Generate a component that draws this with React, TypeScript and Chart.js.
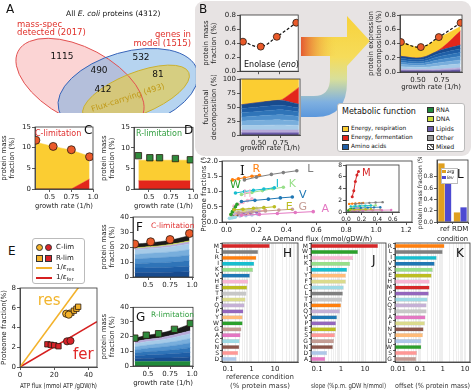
import React, { useEffect, useRef } from 'react';
import { Chart, registerables } from 'chart.js';

Chart.register(...registerables);
const FONT = "'DejaVu Sans', sans-serif";
Chart.defaults.font.family = FONT;
Chart.defaults.font.size = 7;
Chart.defaults.color = '#222';

// ================= DATA =================
// A: Venn diagram
const vennSetMassSpec = ['mass-spec', 'detected (2017)'];
const vennSetModel = ['genes in', 'model (1515)'];
const vennFluxLabel = 'Flux-carrying (493)';
const vennRegionCounts = [1115, 532, 490, 81, 412];

// B: enolase example
const enoGrowth = [0.32, 0.53, 0.72, 0.95];
const enoFraction = [0.42, 0.35, 0.49, 0.69];
const funcGrowth = [0.3, 0.5, 0.75, 0.96];
const funcLipids = [4, 4, 4, 4];
const funcOther = [5, 5, 5, 5];
const funcAmino = [[8, 8, 9, 8], [8, 9, 9, 8], [7, 8, 9, 8], [8, 8, 9, 8], [7, 8, 8, 7], [7, 8, 9, 7]];
const funcFermentation = [0, 0, 0, 30];
const funcRespiration = [46, 42, 38, 15];
const exprLipids = [0.02, 0.02, 0.02, 0.03];
const exprOther = [0.02, 0.015, 0.02, 0.03];
const exprAmino = [[0.035, 0.03, 0.045, 0.055], [0.03, 0.028, 0.044, 0.054], [0.03, 0.027, 0.043, 0.053], [0.03, 0.027, 0.043, 0.053], [0.028, 0.027, 0.042, 0.052], [0.027, 0.026, 0.041, 0.051]];
const exprFermentation = [0, 0, 0.01, 0.2];
const exprRespiration = [0.2, 0.15, 0.17, 0.06];

// C / D
const cGrowth = [0.34, 0.54, 0.75, 0.96];
const cFermentation = [0, 0, 0, 2.4];
const cRespiration = [11.3, 10.3, 9.4, 5.5];
const cMeasured = [11.8, 10.3, 9.5, 7.8];
const dGrowth = [0.38, 0.51, 0.62, 0.8, 0.97];
const dFermentation = [2, 2, 2, 2, 2];
const dRespiration = [5, 5, 5, 5, 5];
const dMeasured = [8.1, 7.6, 7.6, 7.4, 7.1];

// E
const atpLineX = [0, 45];
const resLineY = [0, 10.6];
const ferLineY = [0, 4.6];
const resClimX = [27, 28.5];
const resClimY = [5.4, 5.3];
const resRlimX = [30, 31.5, 33, 34];
const resRlimY = [5.5, 5.7, 5.9, 6.1];
const ferRlimX = [16, 18, 20, 22.5];
const ferRlimY = [2.3, 2.25, 2.2, 2.1];
const ferClimX = [27.5, 29.5];
const ferClimY = [2.6, 2.65];

// F / G
const fGrowth = [0.35, 0.53, 0.75, 0.97];
const fAmino = [[3, 3, 3.2, 3.5], [3, 3.2, 3.3, 3.6], [3, 3.2, 3.4, 3.7], [3, 3.2, 3.4, 3.7], [3, 3.2, 3.4, 3.7], [3, 3, 3.3, 3.8]];
const fLipids = [1, 1, 1.2, 1.5];
const fDNA = [0.5, 0.5, 0.5, 0.6];
const fMixed = [2.5, 2.5, 2.8, 3.5];
const fMeasured = [22, 23.5, 25, 29];
const gGrowth = [0.35, 0.48, 0.62, 0.8, 0.98];
const gRNA = [3, 3, 3, 3, 3];
const gAmino = [[2, 2.2, 2.4, 2.7, 3.2], [2, 2.3, 2.4, 2.8, 3.2], [2, 2.2, 2.4, 2.7, 3.1], [2, 2.3, 2.5, 2.8, 3.2], [2, 2.2, 2.4, 2.7, 3.1], [2, 2.3, 2.4, 2.8, 3.2]];
const gLipids = [1.5, 1.5, 1.6, 1.8, 2];
const gMixed = [2.5, 2.8, 3, 3.5, 4.5];
const gMeasured = [19, 21, 22, 25, 29];

// Amino acid colours
const aaColors: Record<string, string> = {
  V: '#1f77b4', D: '#aec7e8', R: '#ff7f0e', Y: '#ffbb78', W: '#2ca02c', K: '#98df8a', M: '#d62728', S: '#ff9896',
  P: '#9467bd', Q: '#c5b0d5', N: '#8c564b', G: '#c49c94', A: '#e377c2', H: '#f7b6d2', L: '#7f7f7f', T: '#c7c7c7',
  E: '#bcbd22', F: '#dbdb8d', I: '#17becf', C: '#9edae5',
};

// I: AA demand flux vs proteome fraction
const aaDemandFlux: Record<string, number[]> = {
  L: [0.12, 0.2, 0.3, 0.38, 0.47], R: [0.04, 0.08, 0.12, 0.17, 0.22], I: [0.06, 0.12, 0.18, 0.25, 0.32],
  K: [0.1, 0.17, 0.24, 0.31, 0.38], V: [0.1, 0.19, 0.28, 0.36, 0.44], E: [0.05, 0.11, 0.18, 0.25, 0.32],
  G: [0.08, 0.17, 0.26, 0.35, 0.44], A: [0.1, 0.22, 0.34, 0.46, 0.58], W: [0.03, 0.04, 0.05, 0.06, 0.07],
  H: [0.05, 0.08, 0.11, 0.14, 0.17], T: [0.05, 0.1, 0.15, 0.2, 0.25], F: [0.04, 0.08, 0.12, 0.16, 0.2],
  Q: [0.05, 0.09, 0.13, 0.18, 0.22], P: [0.04, 0.08, 0.12, 0.16, 0.2], Y: [0.03, 0.06, 0.09, 0.12, 0.15],
  C: [0.02, 0.03, 0.04, 0.05, 0.06], N: [0.04, 0.07, 0.1, 0.13, 0.16], S: [0.06, 0.11, 0.16, 0.21, 0.26],
  D: [0.05, 0.09, 0.13, 0.17, 0.21],
};
const aaProteomeFrac: Record<string, number[]> = {
  L: [1.38, 1.47, 1.56, 1.62, 1.68], R: [1.38, 1.42, 1.45, 1.5, 1.53], I: [0.95, 1.0, 1.04, 1.08, 1.12],
  K: [0.9, 0.97, 1.03, 1.09, 1.14], V: [0.67, 0.71, 0.75, 0.79, 0.82], E: [0.4, 0.42, 0.45, 0.47, 0.5],
  G: [0.3, 0.33, 0.36, 0.39, 0.42], A: [0.22, 0.25, 0.28, 0.31, 0.34], W: [0.25, 0.34, 0.42, 0.5, 0.58],
  H: [0.52, 0.58, 0.64, 0.7, 0.76], T: [0.38, 0.4, 0.42, 0.45, 0.47], F: [0.33, 0.35, 0.37, 0.39, 0.41],
  Q: [0.28, 0.3, 0.32, 0.34, 0.36], P: [0.26, 0.28, 0.3, 0.31, 0.33], Y: [0.24, 0.26, 0.27, 0.29, 0.3],
  C: [0.12, 0.13, 0.14, 0.15, 0.16], N: [0.22, 0.24, 0.26, 0.28, 0.3], S: [0.3, 0.32, 0.34, 0.36, 0.38],
  D: [0.18, 0.2, 0.21, 0.23, 0.25],
};
const metDemandFlux = [0.08, 0.1, 0.12, 0.14, 0.16];
const metProteomeFrac = [2.6, 3.6, 5.2, 6.3, 6.9];
const iLabelAt: Record<string, number[]> = {
  L: [0.56, 1.72], R: [0.2, 1.74], I: [0.34, 1.24], K: [0.44, 1.25], V: [0.51, 0.87],
  E: [0.42, 0.5], G: [0.51, 0.49], A: [0.66, 0.42], W: [0.06, 1.22], H: [0.14, 0.92],
};

// H / J / K
const hOrder = ['M', 'L', 'R', 'I', 'K', 'V', 'H', 'E', 'T', 'F', 'Q', 'P', 'Y', 'W', 'G', 'A', 'C', 'N', 'S', 'D'];
const hValues = [6.0, 1.9, 1.6, 1.3, 1.15, 0.85, 0.72, 0.65, 0.6, 0.55, 0.5, 0.45, 0.42, 0.42, 0.37, 0.34, 0.31, 0.3, 0.27, 0.23];
const jOrder = ['M', 'W', 'H', 'K', 'I', 'Y', 'F', 'C', 'L', 'T', 'R', 'Q', 'V', 'P', 'E', 'S', 'G', 'N', 'D', 'A'];
const jValues = [35, 5.1, 3.2, 2.4, 1.8, 1.6, 1.6, 1.3, 1.2, 1.1, 1.0, 0.9, 0.68, 0.62, 0.62, 0.56, 0.51, 0.46, 0.26, 0.22];
const kOrder = ['R', 'L', 'I', 'V', 'K', 'E', 'H', 'M', 'P', 'C', 'Q', 'T', 'A', 'F', 'N', 'Y', 'D', 'W', 'S', 'G'];
const kValues = [1.2, 1.0, 0.54, 0.44, 0.36, 0.32, 0.26, 0.26, 0.24, 0.21, 0.19, 0.19, 0.17, 0.16, 0.14, 0.13, 0.11, 0.11, 0.07, 0.065];

// L
const lConditions = ['ref', 'RDM'];
const lArg = [1.04, 0.17];
const lLev = [0.77, 0.26];

// ================= STYLE =================
const YEL = '#fbcd32';
const RED = '#e3261b';
const BLUES = ['#a6cbe8', '#78aedc', '#4f90cc', '#2f74b8', '#1f5ea6', '#184b8e'];
const PURPLE = '#6a5aa8';
const LAVENDER = '#b7a9d8';
const GREEN_RNA = '#1f8a3a';
const DNA_C = '#c9df3a';
const MIXED = '#1a1a1a';
const ORANGE_PT = '#ea5a2a';
const GREEN_PT = '#2f8a3c';

type R4 = { l: number; t: number; r: number; b: number };

// ================= PLUGINS =================
const frame = {
  id: 'frame',
  afterDatasetsDraw(chart: any, _a: any, o: any) {
    if (!o || !o.on) return;
    const { ctx, chartArea: a } = chart;
    ctx.save();
    ctx.strokeStyle = '#333';
    ctx.lineWidth = 0.8;
    ctx.strokeRect(a.left, a.top, a.right - a.left, a.bottom - a.top);
    ctx.restore();
  },
};
const whiteBg = {
  id: 'whiteBg',
  beforeDraw(chart: any, _a: any, o: any) {
    if (!o || !o.on) return;
    const { ctx, chartArea: a } = chart;
    ctx.save();
    ctx.fillStyle = '#fff';
    ctx.fillRect(a.left, a.top, a.right - a.left, a.bottom - a.top);
    ctx.restore();
  },
};
const venn = {
  id: 'venn',
  afterDatasetsDraw(chart: any, _a: any, o: any) {
    if (!o || !o.ellipses) return;
    const { ctx, scales } = chart;
    const px = (v: number) => scales.x.getPixelForValue(v);
    const py = (v: number) => scales.y.getPixelForValue(v);
    ctx.save();
    const path = (e: any) => {
      ctx.beginPath();
      ctx.ellipse(px(e.cx), py(e.cy), Math.abs(px(e.cx + e.rx) - px(e.cx)), Math.abs(py(e.cy + e.ry) - py(e.cy)), (e.rot * Math.PI) / 180, 0, Math.PI * 2);
    };
    for (const e of o.ellipses) { path(e); ctx.fillStyle = e.fill; ctx.fill(); }
    for (const e of o.ellipses) { path(e); ctx.strokeStyle = e.stroke; ctx.lineWidth = 1; ctx.stroke(); }
    ctx.restore();
  },
};
const dataText = {
  id: 'dataText',
  afterDatasetsDraw(chart: any, _a: any, o: any) {
    if (!o || !o.items) return;
    const { ctx, scales } = chart;
    ctx.save();
    for (const t of o.items) {
      ctx.save();
      ctx.translate(scales.x.getPixelForValue(t.x), scales.y.getPixelForValue(t.y));
      ctx.rotate(((t.rot || 0) * Math.PI) / 180);
      ctx.font = `${t.size || 8}px ${FONT}`;
      ctx.fillStyle = t.color || '#111';
      ctx.textAlign = t.align || 'center';
      ctx.textBaseline = 'middle';
      ctx.fillText(t.text, 0, 0);
      ctx.restore();
    }
    ctx.restore();
  },
};
const arrow = {
  id: 'arrowDeco',
  beforeDraw(chart: any, _a: any, o: any) {
    if (!o || !o.on) return;
    const ctx = chart.ctx;
    const ox = o.ox, oy = o.oy;
    const P = (x: number, y: number): [number, number] => [x - ox, y - oy];
    ctx.save();
    ctx.beginPath();
    ctx.moveTo(...P(301, 37));
    ctx.lineTo(...P(347, 37));
    ctx.lineTo(...P(347, 16));
    ctx.lineTo(...P(370, 41));
    ctx.lineTo(...P(347, 66));
    ctx.lineTo(...P(347, 82));
    ctx.quadraticCurveTo(...P(347, 117), ...P(316, 117));
    ctx.lineTo(...P(301, 117));
    ctx.lineTo(...P(301, 96));
    ctx.lineTo(...P(314, 96));
    ctx.quadraticCurveTo(...P(330, 96), ...P(330, 78));
    ctx.lineTo(...P(330, 56));
    ctx.lineTo(...P(301, 56));
    ctx.closePath();
    const g = ctx.createLinearGradient(0, 17 - oy, 0, 117 - oy);
    g.addColorStop(0, '#f7d23c');
    g.addColorStop(0.4, '#f6dc5a');
    g.addColorStop(0.62, '#d8df9a');
    g.addColorStop(0.85, '#7fb0e0');
    g.addColorStop(1, '#5b97dc');
    ctx.fillStyle = g;
    ctx.fill();
    ctx.beginPath();
    ctx.rect(301 - ox, 37 - oy, 36, 19);
    const h = ctx.createLinearGradient(301 - ox, 0, 337 - ox, 0);
    h.addColorStop(0, 'rgba(228,90,50,1)');
    h.addColorStop(1, 'rgba(246,210,70,0)');
    ctx.fillStyle = h;
    ctx.fill();
    ctx.restore();
  },
};

// ================= HELPERS =================
function linAxis(min: number, max: number, ticks: number[], fmt: (v: number) => string, title?: string | string[], showLabels = true, extra: any = {}) {
  return {
    type: 'linear', min, max,
    afterBuildTicks: (s: any) => { s.ticks = ticks.map((v) => ({ value: v })); },
    grid: { drawOnChartArea: false, tickLength: 3, color: '#333', lineWidth: 0.8 },
    border: { color: '#333', width: 0.8 },
    ticks: { display: showLabels, font: { size: 7 }, color: '#222', padding: 1, maxRotation: 0, autoSkip: false, callback: (v: any) => fmt(Number(v)) },
    title: title ? { display: true, text: title, font: { size: 7 }, color: '#222', padding: { top: 0, bottom: 1 } } : { display: false },
    ...extra,
  };
}
function logAxis(min: number, max: number, title: string | string[]) {
  const ticks: number[] = [];
  for (let e = -3; e <= 2; e++) for (let k = 1; k <= 9; k++) {
    const v = Number((k * Math.pow(10, e)).toPrecision(3));
    if (v >= min && v <= max) ticks.push(v);
  }
  return {
    type: 'logarithmic', min, max,
    afterBuildTicks: (s: any) => { s.ticks = ticks.map((v) => ({ value: v })); },
    grid: { drawOnChartArea: true, drawTicks: false, color: '#e2e2e2', lineWidth: 0.6 },
    border: { color: '#333', width: 0.8 },
    ticks: { font: { size: 7 }, color: '#222', padding: 3, maxRotation: 0, autoSkip: false, callback: (v: any) => ([0.01, 0.1, 1, 10].includes(Number(v)) ? String(Number(v)) : '') },
    title: { display: true, text: title, font: { size: 7 }, color: '#333', padding: { top: 1, bottom: 0 } },
  };
}
function catAxis(size: number, extra: any = {}) {
  return {
    type: 'category',
    grid: { drawOnChartArea: false, tickLength: 2, color: '#333', lineWidth: 0.8 },
    border: { color: '#333', width: 0.8 },
    ticks: { font: { size }, color: '#222', padding: 1, autoSkip: false, maxRotation: 0 },
    ...extra,
  };
}
function mkOpts(m: R4, x: any, y: any, pl: any = {}, extra: any = {}) {
  return {
    responsive: false, animation: false, events: [], devicePixelRatio: 1,
    layout: { padding: { left: 0, top: m.t, right: m.r, bottom: 0 } },
    plugins: { legend: { display: false }, tooltip: { enabled: false }, frame: { on: true }, ...pl },
    scales: {
      x: { ...x, afterFit: (s: any) => { s.height = m.b; s.paddingLeft = 0; s.paddingRight = 0; } },
      y: { ...y, afterFit: (s: any) => { s.width = m.l; s.paddingTop = 0; s.paddingBottom = 0; } },
    },
    ...extra,
  };
}
function boxOf(p: R4, m: R4) {
  return { left: p.l - m.l, top: p.t - m.t, width: p.r - p.l + m.l + m.r, height: p.b - p.t + m.t + m.b };
}
function stackDs(xs: number[], layers: { v: number[]; c: string }[], tension = 0.35) {
  return layers.map((L, i) => ({
    type: 'line', data: xs.map((x, k) => ({ x, y: L.v[k] })), stack: 'area', order: 2,
    backgroundColor: L.c, borderColor: L.c, borderWidth: 0.5, pointRadius: 0,
    fill: i === 0 ? 'origin' : '-1', tension,
  }));
}
function ptsDs(xs: number[], ys: number[], color: string, style = 'circle', r = 4, dashed = false) {
  return {
    type: 'line', data: xs.map((x, k) => ({ x, y: ys[k] })), stack: 'pts', order: 0,
    showLine: dashed, borderColor: '#111', borderWidth: dashed ? 1.2 : 0, borderDash: [3, 2], tension: 0.4,
    pointStyle: style, pointRadius: r, pointBackgroundColor: color, pointBorderColor: '#2a1a10', pointBorderWidth: 0.8, fill: false,
  };
}
function lineDs(xs: number[], ys: number[], color: string, r = 1.8, w = 1) {
  return {
    type: 'line', data: xs.map((x, k) => ({ x, y: ys[k] })), borderColor: color, backgroundColor: color,
    borderWidth: w, pointRadius: r, pointBorderWidth: 0, fill: false, tension: 0,
  };
}
const f1 = (v: number) => v.toFixed(1);
const f2 = (v: number) => v.toFixed(2);
const fg = (v: number) => (v === 0.75 ? '0.75' : v.toFixed(1));
const fi = (v: number) => String(v);

function buildSpecs() {
  const specs: any[] = [];
  const add = (box: any, config: any) => specs.push({ box, config });
  const P = [whiteBg, frame, venn, dataText, arrow];

  // A: Venn
  add({ left: 0, top: 0, width: 196, height: 113 }, {
    type: 'scatter', data: { datasets: [] }, plugins: P,
    options: {
      responsive: false, animation: false, events: [], devicePixelRatio: 1, layout: { padding: 0 },
      scales: { x: { type: 'linear', min: 0, max: 196, display: false }, y: { type: 'linear', min: 0, max: 113, reverse: true, display: false } },
      plugins: {
        legend: { display: false }, tooltip: { enabled: false },
        venn: {
          ellipses: [
            { cx: 80, cy: 84, rx: 70, ry: 36, rot: 28, fill: 'rgba(246,160,160,0.45)', stroke: '#e25050' },
            { cx: 128, cy: 90, rx: 72, ry: 38, rot: -16, fill: 'rgba(110,170,225,0.5)', stroke: '#3563b8' },
            { cx: 136, cy: 94, rx: 57, ry: 21, rot: -22, fill: 'rgba(232,205,70,0.65)', stroke: '#c9b030' },
          ],
        },
        dataText: {
          items: [
            { x: 17, y: 25, text: vennSetMassSpec[0], color: '#e0302a', size: 8.5, align: 'left' },
            { x: 17, y: 33, text: vennSetMassSpec[1], color: '#e0302a', size: 8.5, align: 'left' },
            { x: 191, y: 35, text: vennSetModel[0], color: '#e0302a', size: 8.5, align: 'right' },
            { x: 191, y: 44, text: vennSetModel[1], color: '#e0302a', size: 8.5, align: 'right' },
            { x: 62, y: 57, text: String(vennRegionCounts[0]), color: '#111', size: 9 },
            { x: 141, y: 58, text: String(vennRegionCounts[1]), color: '#111', size: 9 },
            { x: 99, y: 71, text: String(vennRegionCounts[2]), color: '#111', size: 9 },
            { x: 158, y: 75, text: String(vennRegionCounts[3]), color: '#111', size: 9 },
            { x: 103, y: 90, text: String(vennRegionCounts[4]), color: '#111', size: 9 },
            { x: 128, y: 98, text: vennFluxLabel, color: '#c09a18', size: 8, rot: -18 },
          ],
        },
      },
    },
  });

  // Arrow decoration for B
  add({ left: 298, top: 12, width: 74, height: 108 }, {
    type: 'scatter', data: { datasets: [] }, plugins: P,
    options: {
      responsive: false, animation: false, events: [], devicePixelRatio: 1,
      scales: { x: { display: false }, y: { display: false } },
      plugins: { legend: { display: false }, tooltip: { enabled: false }, arrowDeco: { on: true, ox: 298, oy: 12 } },
    },
  });

  // B top-left
  {
    const p = { l: 240, t: 15, r: 300, b: 72 }, m = { l: 38, t: 5, r: 3, b: 4 };
    add(boxOf(p, m), {
      type: 'line', plugins: P,
      data: { datasets: [ptsDs(enoGrowth, enoFraction, ORANGE_PT, 'circle', 3.5, true)] },
      options: mkOpts(m, linAxis(0.285, 0.973, [0.5, 0.75], f2, undefined, false),
        linAxis(0, 0.8, [0, 0.2, 0.4, 0.6, 0.8], f1, ['protein mass', 'fraction (%)']), { whiteBg: { on: true } }),
    });
  }
  // B bottom-left
  {
    const p = { l: 240, t: 79, r: 300, b: 135 }, m = { l: 38, t: 4, r: 5, b: 18 };
    const layers = [
      { v: funcLipids, c: PURPLE }, { v: funcOther, c: LAVENDER },
      ...funcAmino.map((v, i) => ({ v, c: BLUES[i] })),
      { v: funcFermentation, c: RED }, { v: funcRespiration, c: YEL },
    ];
    add(boxOf(p, m), {
      type: 'line', plugins: P,
      data: { datasets: stackDs(funcGrowth, layers, 0.2) },
      options: mkOpts(m, linAxis(0.285, 0.973, [0.5, 0.75], f2, 'growth rate (1/h)'),
        linAxis(0, 100, [0, 25, 50, 75, 100], fi, ['functional', 'decomposition (%)'], true, { stacked: true }), { whiteBg: { on: true } }),
    });
  }
  // B right
  {
    const p = { l: 400, t: 15, r: 462, b: 72 }, m = { l: 33, t: 5, r: 6, b: 20 };
    const layers = [
      { v: exprLipids, c: PURPLE }, { v: exprOther, c: LAVENDER },
      ...exprAmino.map((v, i) => ({ v, c: BLUES[i] })),
      { v: exprFermentation, c: RED }, { v: exprRespiration, c: YEL },
    ];
    add(boxOf(p, m), {
      type: 'line', plugins: P,
      data: { datasets: [...stackDs(enoGrowth, layers, 0.4), ptsDs(enoGrowth, enoFraction, ORANGE_PT, 'circle', 3.5, true)] },
      options: mkOpts(m, linAxis(0.31, 0.965, [0.5, 0.75], f2, 'growth rate (1/h)'),
        linAxis(0, 0.8, [0, 0.2, 0.4, 0.6, 0.8], f1, ['protein expression', 'decomposition (%)'], true, { stacked: true }), { whiteBg: { on: true } }),
    });
  }
  // C
  {
    const p = { l: 35, t: 127, r: 93, b: 189 }, m = { l: 35, t: 5, r: 6, b: 22 };
    add(boxOf(p, m), {
      type: 'line', plugins: P,
      data: { datasets: [...stackDs(cGrowth, [{ v: cFermentation, c: RED }, { v: cRespiration, c: YEL }], 0), ptsDs(cGrowth, cMeasured, ORANGE_PT, 'circle', 4)] },
      options: mkOpts(m, linAxis(0.33, 1.0, [0.5, 0.75, 1.0], fg, 'growth rate (1/h)'),
        linAxis(0, 15, [0, 5, 10, 15], fi, ['protein mass', 'fraction (%)'], true, { stacked: true })),
    });
  }
  // D
  {
    const p = { l: 134, t: 127, r: 193, b: 189 }, m = { l: 34, t: 5, r: 6, b: 22 };
    add(boxOf(p, m), {
      type: 'line', plugins: P,
      data: { datasets: [...stackDs(dGrowth, [{ v: dFermentation, c: RED }, { v: dRespiration, c: YEL }], 0), ptsDs(dGrowth, dMeasured, GREEN_PT, 'rect', 4.5)] },
      options: mkOpts(m, linAxis(0.33, 1.0, [0.5, 0.75, 1.0], fg, 'growth rate (1/h)'),
        linAxis(0, 15, [0, 5, 10, 15], fi, ['protein mass', 'fraction (%)'], true, { stacked: true })),
    });
  }
  // E
  {
    const p = { l: 20, t: 288, r: 97, b: 367 }, m = { l: 20, t: 5, r: 8, b: 24 };
    add(boxOf(p, m), {
      type: 'line', plugins: P,
      data: {
        datasets: [
          ptsDs(resClimX, resClimY, '#f3b22b', 'circle', 3.6), ptsDs(resRlimX, resRlimY, '#f3b22b', 'rect', 3.8),
          ptsDs(ferRlimX, ferRlimY, '#d8232a', 'rect', 3.8), ptsDs(ferClimX, ferClimY, '#d8232a', 'circle', 3.6),
          { ...lineDs(atpLineX, resLineY, '#f3b22b', 0, 1.6), order: 3 }, { ...lineDs(atpLineX, ferLineY, '#d62020', 0, 1.6), order: 3 },
        ],
      },
      options: mkOpts(m, linAxis(0, 45, [0, 20, 40], fi, 'ATP flux (mmol ATP /gDW/h)'),
        linAxis(0, 8, [0, 2, 4, 6, 8], fi, 'Proteome fraction(%)'),
        { dataText: { items: [{ x: 17, y: 6.7, text: 'res', color: '#f2b52e', size: 15 }, { x: 37, y: 1.2, text: 'fer', color: '#e02828', size: 15 }] } }),
    });
  }
  // F
  {
    const p = { l: 133, t: 217, r: 193, b: 277 }, m = { l: 33, t: 5, r: 7, b: 12 };
    const layers = [...fAmino.map((v, i) => ({ v, c: BLUES[5 - i] })), { v: fLipids, c: LAVENDER }, { v: fDNA, c: DNA_C }, { v: fMixed, c: MIXED }];
    add(boxOf(p, m), {
      type: 'line', plugins: P,
      data: { datasets: [...stackDs(fGrowth, layers, 0.3), ptsDs(fGrowth, fMeasured, ORANGE_PT, 'circle', 4)] },
      options: mkOpts(m, linAxis(0.33, 1.01, [0.5, 0.75, 1.0], fg),
        linAxis(0, 40, [0, 10, 20, 30, 40], fi, ['protein mass', 'fraction (%)'], true, { stacked: true })),
    });
  }
  // G
  {
    const p = { l: 133, t: 307, r: 193, b: 366 }, m = { l: 33, t: 5, r: 7, b: 22 };
    const layers = [{ v: gRNA, c: GREEN_RNA }, ...gAmino.map((v, i) => ({ v, c: BLUES[5 - i] })), { v: gLipids, c: LAVENDER }, { v: gMixed, c: MIXED }];
    add(boxOf(p, m), {
      type: 'line', plugins: P,
      data: { datasets: [...stackDs(gGrowth, layers, 0.3), ptsDs(gGrowth, gMeasured, GREEN_PT, 'rect', 4.5)] },
      options: mkOpts(m, linAxis(0.33, 1.01, [0.5, 0.75, 1.0], fg, 'growth rate (1/h)'),
        linAxis(0, 40, [0, 10, 20, 30, 40], fi, ['protein mass', 'fraction (%)'], true, { stacked: true })),
    });
  }
  // I main
  const aas = Object.keys(aaDemandFlux);
  {
    const p = { l: 222, t: 160, r: 412, b: 222 }, m = { l: 22, t: 3, r: 4, b: 22 };
    add(boxOf(p, m), {
      type: 'line', plugins: P,
      data: { datasets: aas.map((a) => lineDs(aaDemandFlux[a], aaProteomeFrac[a], aaColors[a])) },
      options: mkOpts(m, linAxis(-0.03, 1.24, [0, 0.2, 0.4, 0.6, 0.8, 1.0, 1.2], f1, 'AA Demand flux (mmol/gDW/h)'),
        linAxis(0, 2, [0, 0.5, 1, 1.5, 2], f1, 'Proteome fractions (%)'),
        { dataText: { items: Object.keys(iLabelAt).map((a) => ({ x: iLabelAt[a][0], y: iLabelAt[a][1], text: a, color: aaColors[a], size: 11 })) } }),
    });
  }
  // I inset
  {
    const p = { l: 346, t: 164, r: 400, b: 212 }, m = { l: 9, t: 3, r: 3, b: 9 };
    const ax: any = linAxis(0, 0.68, [0, 0.2, 0.4, 0.6], f1);
    const ay: any = linAxis(0, 8, [0, 2, 4, 6, 8], fi);
    ax.ticks.font = { size: 6 }; ay.ticks.font = { size: 6 };
    add(boxOf(p, m), {
      type: 'line', plugins: P,
      data: { datasets: [lineDs(metDemandFlux, metProteomeFrac, aaColors.M, 1.5), ...aas.map((a) => lineDs(aaDemandFlux[a], aaProteomeFrac[a], aaColors[a], 1.2, 0.8))] },
      options: mkOpts(m, ax, ay, { whiteBg: { on: true }, dataText: { items: [{ x: 0.26, y: 6.6, text: 'M', color: aaColors.M, size: 10 }] } }),
    });
  }
  // L
  {
    const p = { l: 437, t: 160, r: 468, b: 222 }, m = { l: 20, t: 3, r: 4, b: 22 };
    const ay: any = linAxis(0, 1.1, [0, 0.2, 0.4, 0.6, 0.8], f1, 'protein mass fraction (%)');
    ay.ticks.font = { size: 6 }; ay.title.font = { size: 6 };
    add(boxOf(p, m), {
      type: 'bar', plugins: P,
      data: {
        labels: lConditions,
        datasets: [
          { data: lArg, backgroundColor: '#e0a020', barPercentage: 0.95, categoryPercentage: 0.85 },
          { data: lLev, backgroundColor: '#4d4ad2', barPercentage: 0.95, categoryPercentage: 0.85 },
        ],
      },
      options: mkOpts(m, catAxis(7, { title: { display: true, text: 'condition', font: { size: 7 }, padding: { top: 0, bottom: 1 } } }), ay),
    });
  }
  // H, J, K bars
  const bars = (p: R4, labels: string[], vals: number[], min: number, max: number, title: string | string[]) => {
    const m = { l: 12, t: 3, r: 3, b: 28 };
    add(boxOf(p, m), {
      type: 'bar', plugins: P,
      data: { labels, datasets: [{ data: vals, backgroundColor: labels.map((a) => aaColors[a]), borderColor: 'rgba(60,60,60,0.35)', borderWidth: 0.4, barPercentage: 0.72, categoryPercentage: 1 }] },
      options: mkOpts(m, logAxis(min, max, title), catAxis(6), {}, { indexAxis: 'y' }),
    });
  };
  bars({ l: 222, t: 243, r: 298, b: 362 }, hOrder, hValues, 0.055, 95, ['reference condition', '(% protein mass)']);
  bars({ l: 311, t: 243, r: 386, b: 362 }, jOrder, jValues, 0.056, 75, 'slope (%p.m. gDW h/mmol)');
  bars({ l: 395, t: 243, r: 470, b: 362 }, kOrder, kValues, 0.0073, 16.7, 'offset (% protein mass)');
  return specs;
}

// ================= COMPONENTS =================
const T = (p: { x: number; y: number; s?: number; c?: string; children: any; st?: any }) => (
  <div style={{ position: 'absolute', left: p.x, top: p.y, fontSize: p.s || 7, color: p.c || '#111', fontFamily: FONT, lineHeight: 1, whiteSpace: 'nowrap', ...(p.st || {}) }}>{p.children}</div>
);
const Sw = (p: { x: number; y: number; c: string; w?: number; h?: number; r?: boolean; st?: any }) => (
  <div style={{ position: 'absolute', left: p.x, top: p.y, width: p.w || 7, height: p.h || 6, background: p.c, border: '0.8px solid #333', borderRadius: p.r ? '50%' : 0, boxSizing: 'border-box', ...(p.st || {}) }} />
);

export default function App() {
  const refs = useRef<(HTMLCanvasElement | null)[]>([]);
  const specs = useRef<any[]>(buildSpecs());
  useEffect(() => {
    const charts = specs.current.map((s, i) => new Chart(refs.current[i] as HTMLCanvasElement, s.config));
    return () => charts.forEach((c) => c.destroy());
  }, []);
  const RC = '#e03030', GC = '#35a043';
  return (
    <div style={{ position: 'fixed', left: 0, top: 0, width: 474, height: 392, background: '#fff', overflow: 'hidden', fontFamily: FONT }}>
      <div style={{ position: 'absolute', left: 195, top: 1, width: 276, height: 155, background: '#e7e3e3', borderRadius: 9 }} />
      {specs.current.map((s, i) => (
        <canvas key={i} ref={(el) => { refs.current[i] = el; }} width={s.box.width} height={s.box.height}
          style={{ position: 'absolute', left: s.box.left, top: s.box.top, width: s.box.width, height: s.box.height }} />
      ))}
      <T x={6} y={3} s={12}>A</T>
      <T x={66} y={10} s={7.5}>All <i>E. coli</i> proteins (4312)</T>
      <T x={199} y={3} s={12}>B</T>
      <T x={244} y={61} s={8}>Enolase (<i>eno</i>)</T>
      {/* B legend */}
      <div style={{ position: 'absolute', left: 337, top: 103, width: 128, height: 49, background: '#fff', border: '1px solid #bbb', borderRadius: 3, boxSizing: 'border-box' }}>
        <T x={4} y={4} s={8}>Metabolic function</T>
        <Sw x={4} y={22} c={YEL} /><T x={13} y={22} s={5.8}>Energy, respiration</T>
        <Sw x={4} y={31} c={RED} /><T x={13} y={31} s={5.8}>Energy, fermentation</T>
        <Sw x={4} y={40} c="#1f5ea6" /><T x={13} y={40} s={5.8}>Amino acids</T>
        <Sw x={89} y={3} c={GREEN_RNA} /><T x={98} y={3} s={6.2}>RNA</T>
        <Sw x={89} y={12} c={DNA_C} /><T x={98} y={12} s={6.2}>DNA</T>
        <Sw x={89} y={22} c={PURPLE} /><T x={98} y={22} s={6.2}>Lipids</T>
        <Sw x={89} y={31} c="#999" /><T x={98} y={31} s={6.2}>Other</T>
        <Sw x={89} y={40} c="repeating-linear-gradient(45deg,#fff 0 1.5px,#777 1.5px 2.5px)" /><T x={98} y={40} s={6.2}>Mixed</T>
      </div>
      <T x={35} y={130} s={8} c={RC}>C-limitation</T>
      <T x={84} y={124} s={12}>C</T>
      <T x={136} y={130} s={8} c={GC}>R-limitation</T>
      <T x={184} y={124} s={12}>D</T>
      <T x={8} y={245} s={12}>E</T>
      {/* E legend */}
      <div style={{ position: 'absolute', left: 32, top: 238, width: 53, height: 46, background: '#fff', border: '1px solid #bbb', borderRadius: 3, boxSizing: 'border-box' }}>
        <Sw x={3} y={5} w={7} h={7} c="#f3b22b" r /><Sw x={12} y={5} w={7} h={7} c="#d8232a" r /><T x={23} y={5} s={7}>C-lim</T>
        <Sw x={3} y={16} w={7} h={7} c="#f3b22b" /><Sw x={12} y={16} w={7} h={7} c="#d8232a" /><T x={23} y={16} s={7}>R-lim</T>
        <div style={{ position: 'absolute', left: 3, top: 28, width: 16, height: 2, background: '#f3b22b' }} /><T x={23} y={25} s={7}>1/<i>ε</i><sub style={{ fontSize: 5 }}>res</sub></T>
        <div style={{ position: 'absolute', left: 3, top: 38, width: 16, height: 2, background: '#d62020' }} /><T x={23} y={35} s={7}>1/<i>ε</i><sub style={{ fontSize: 5 }}>fer</sub></T>
      </div>
      <T x={136} y={221} s={12}>F</T>
      <T x={151} y={222} s={7.5} c={RC}>C-limitation</T>
      <T x={136} y={311} s={12}>G</T>
      <T x={151} y={311} s={7.5} c={GC}>R-limitation</T>
      <T x={240} y={165} s={12} st={{ fontFamily: 'DejaVu Serif, serif' }}>I</T>
      <T x={457} y={168} s={12}>L</T>
      <div style={{ position: 'absolute', left: 441, top: 168, width: 15, height: 14, background: '#fff', border: '0.6px solid #bbb', fontSize: 4.5, lineHeight: '6px', fontFamily: FONT }}>
        <div><span style={{ display: 'inline-block', width: 4, height: 3, background: '#e0a020', marginRight: 1 }} /><i>arg</i></div>
        <div><span style={{ display: 'inline-block', width: 4, height: 3, background: '#4d4ad2', marginRight: 1 }} /><i>lev</i></div>
      </div>
      <T x={283} y={247} s={12}>H</T>
      <T x={372} y={254} s={12}>J</T>
      <T x={456} y={247} s={12}>K</T>
    </div>
  );
}
